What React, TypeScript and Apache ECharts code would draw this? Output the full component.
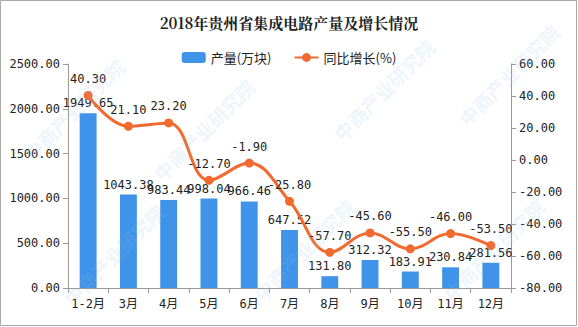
import React, { useEffect, useRef } from "react";
import * as echarts from "echarts";

const categories = ["1-2月", "3月", "4月", "5月", "6月", "7月", "8月", "9月", "10月", "11月", "12月"];
const output = [1949.65, 1043.38, 983.44, 998.04, 966.46, 647.52, 131.8, 312.32, 183.91, 230.84, 281.56];
const growth = [40.3, 21.1, 23.2, -12.7, -1.9, -25.8, -57.7, -45.6, -55.5, -46.0, -53.5];
const title = "2018年贵州省集成电路产量及增长情况";
const seriesNames = ["产量(万块)", "同比增长(%)"];
const watermark = "中商产业研究院";

const MONO = "'DejaVu Sans Mono', 'Noto Sans CJK SC', monospace";

export default function App() {
  const ref = useRef<HTMLDivElement>(null);
  useEffect(() => {
    document.body.style.margin = "0";
    const chart = echarts.init(ref.current!, null, { renderer: "svg" });
    const wmPos = [
      [20, 150], [150, 170], [330, 130], [455, 115],
      [60, 295], [250, 290], [440, 290],
    ];
    chart.setOption({
      animation: false,
      backgroundColor: "#fff",
      title: {
        text: title,
        left: "center",
        top: 10,
        textStyle: { fontSize: 15, fontWeight: "bold", color: "#222", fontFamily: "'Noto Serif CJK SC', 'Noto Sans CJK SC', serif" },
      },
      legend: {
        top: 46,
        left: "center",
        itemGap: 22,
        itemWidth: 24,
        itemHeight: 11,
        textStyle: { fontSize: 13, color: "#222", fontFamily: "'Noto Sans CJK SC', sans-serif" },
        data: [seriesNames[0], seriesNames[1]],
      },
      grid: { left: 68, right: 67, top: 64, bottom: 39 },
      xAxis: {
        type: "category",
        data: categories,
        axisLine: { lineStyle: { color: "#999" } },
        axisTick: { show: true, alignWithLabel: false, lineStyle: { color: "#999" } },
        axisLabel: { color: "#222", fontSize: 12, fontFamily: MONO, margin: 10, interval: 0 },
      },
      yAxis: [
        {
          type: "value",
          min: 0,
          max: 2500,
          interval: 500,
          splitLine: { show: false },
          axisLine: { show: true, lineStyle: { color: "#999" } },
          axisTick: { show: true, lineStyle: { color: "#999" } },
          axisLabel: { color: "#222", fontSize: 12, fontFamily: MONO, formatter: (v: number) => v.toFixed(2) },
        },
        {
          type: "value",
          min: -80,
          max: 60,
          interval: 20,
          splitLine: { show: false },
          axisLine: { show: true, lineStyle: { color: "#999" } },
          axisTick: { show: true, lineStyle: { color: "#999" } },
          axisLabel: { color: "#222", fontSize: 12, fontFamily: MONO, formatter: (v: number) => v.toFixed(2) },
        },
      ],
      series: [
        {
          name: seriesNames[0],
          type: "bar",
          data: output,
          barWidth: "42%",
          itemStyle: { color: "#3f93e8" },
          label: {
            show: true,
            position: "top",
            distance: 4,
            color: "#222",
            fontSize: 12,
            fontFamily: MONO,
            formatter: (p: any) => Number(p.value).toFixed(2),
          },
        },
        {
          name: seriesNames[1],
          type: "line",
          yAxisIndex: 1,
          data: growth,
          smooth: 0.4,
          symbol: "circle",
          symbolSize: 9,
          lineStyle: { color: "#f26a2e", width: 3 },
          itemStyle: { color: "#f26a2e" },
          label: {
            show: true,
            position: "top",
            distance: 6,
            color: "#222",
            fontSize: 12,
            fontFamily: MONO,
            formatter: (p: any) => Number(p.value).toFixed(2),
          },
          z: 3,
        },
      ],
      graphic: [
        {
          type: "rect",
          shape: { x: 0.5, y: 0.5, width: 576, height: 325 },
          style: { fill: "none", stroke: "#aaa", lineWidth: 1 },
          silent: true,
          z: -1,
        },
        ...wmPos.map(([x, y]) => ({
          type: "text",
          x,
          y,
          rotation: Math.PI / 4,
          silent: true,
          z: 100,
          style: {
            text: watermark,
            fill: "rgba(150,190,230,0.16)",
            font: "bold 19px 'Noto Sans CJK SC'",
          },
        })),
      ],
    });
    return () => chart.dispose();
  }, []);
  return <div ref={ref} style={{ width: 578, height: 327 }} />;
}
